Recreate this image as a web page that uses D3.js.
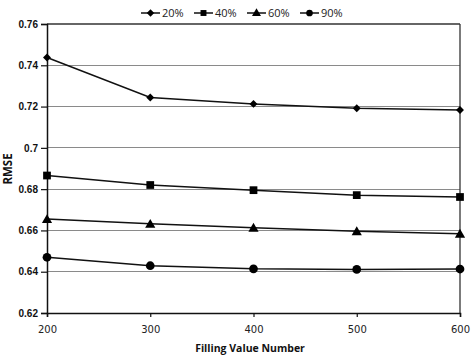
<!DOCTYPE html>
<html><head><meta charset="utf-8">
<script src="https://cdn.jsdelivr.net/npm/d3@7"></script>
<style>body{margin:0;background:#fff}svg{display:block}</style>
</head><body>
<svg id="c" width="474" height="356"></svg>
<script>
const xValues = [200, 300, 400, 500, 600];
const seriesNames = ["20%", "40%", "60%", "90%"];
const s20 = [0.7438, 0.7244, 0.7213, 0.7192, 0.7183];
const s40 = [0.6866, 0.6820, 0.6795, 0.6771, 0.6762];
const s60 = [0.6655, 0.6632, 0.6613, 0.6596, 0.6584];
const s90 = [0.6470, 0.6429, 0.6414, 0.6411, 0.6413];
const yTicks = [0.62, 0.64, 0.66, 0.68, 0.7, 0.72, 0.74, 0.76];
const yTickLabels = ["0.62", "0.64", "0.66", "0.68", "0.7", "0.72", "0.74", "0.76"];
const xTickLabels = ["200", "300", "400", "500", "600"];
const markers = ["diamond", "square", "triangle", "circle"];
const allSeries = [s20, s40, s60, s90];

const svg = d3.select("#c");
const L = 47, R = 460, T = 24, B = 313;
const x = d3.scaleLinear().domain([200, 600]).range([L, R]);
const y = d3.scaleLinear().domain([0.62, 0.76]).range([B, T]);

svg.append("g").selectAll("line").data(yTicks.slice(1, -1)).join("line")
  .attr("x1", L).attr("x2", R).attr("y1", d => y(d)).attr("y2", d => y(d))
  .attr("stroke", "#8a8a8a").attr("stroke-width", 1).attr("shape-rendering", "crispEdges");

svg.append("line").attr("x1", L).attr("x2", R).attr("y1", T).attr("y2", T)
  .attr("stroke", "#333").attr("stroke-width", 1.3);
svg.append("line").attr("x1", R).attr("x2", R).attr("y1", T).attr("y2", B)
  .attr("stroke", "#333").attr("stroke-width", 1.3);

const yAxis = d3.axisLeft(y).tickValues(yTicks).tickFormat((d, i) => yTickLabels[i]).tickSize(6).tickPadding(3);
const gy = svg.append("g").attr("transform", `translate(${L},0)`).call(yAxis);
gy.select(".domain").attr("stroke", "#111").attr("stroke-width", 1.5);
gy.selectAll(".tick line").attr("stroke", "#111").attr("stroke-width", 1.2);
gy.selectAll("text").attr("font-family", "Liberation Sans, Arial, sans-serif")
  .attr("font-weight", "bold").attr("font-size", 10).attr("fill", "#111");

const xAxis = d3.axisBottom(x).tickValues(xValues).tickFormat((d, i) => xTickLabels[i]).tickSize(4).tickPadding(9);
const gx = svg.append("g").attr("transform", `translate(0,${B})`).call(xAxis);
gx.select(".domain").attr("stroke", "#111").attr("stroke-width", 1.5);
gx.selectAll(".tick line").attr("stroke", "#111").attr("stroke-width", 1.2);
gx.selectAll("text").attr("font-family", "DejaVu Sans, Verdana, sans-serif")
  .attr("font-size", 10).attr("fill", "#222");

svg.append("text").attr("x", 250).attr("y", 352).attr("text-anchor", "middle")
  .attr("font-family", "Open Sans, sans-serif").attr("font-weight", "bold").attr("font-size", 10.5)
  .attr("fill", "#111").text("Filling Value Number");
svg.append("text").attr("transform", "translate(12,169) rotate(-90)").attr("text-anchor", "middle")
  .attr("font-family", "Open Sans, sans-serif").attr("font-weight", "bold").attr("font-size", 11.5)
  .attr("fill", "#111").text("RMSE");

function symbolFor(m) {
  if (m === "diamond") return d3.symbol().type(d3.symbolDiamond2).size(40)();
  if (m === "square") return d3.symbol().type(d3.symbolSquare).size(60)();
  if (m === "triangle") return d3.symbol().type(d3.symbolTriangle).size(45)();
  return d3.symbol().type(d3.symbolCircle).size(60)();
}

const line = d3.line().x((d, i) => x(xValues[i])).y(d => y(d));
allSeries.forEach((s, k) => {
  const g = svg.append("g");
  g.append("path").datum(s).attr("d", line).attr("fill", "none")
    .attr("stroke", "#111").attr("stroke-width", 1.5);
  g.selectAll("path.m").data(s).join("path").attr("class", "m")
    .attr("transform", (d, i) => `translate(${x(xValues[i])},${y(d) + (markers[k] === "triangle" ? 1 : 0)})`)
    .attr("d", symbolFor(markers[k])).attr("fill", "#000");
});

const legX = [141, 194, 247, 300];
seriesNames.forEach((n, k) => {
  const g = svg.append("g").attr("transform", `translate(${legX[k]},13)`);
  g.append("line").attr("x1", 0).attr("x2", 19).attr("stroke", "#111").attr("stroke-width", 1.5);
  g.append("path").attr("transform", `translate(9.5,${markers[k] === "triangle" ? 0.5 : 0})`)
    .attr("d", d3.symbol().type([d3.symbolDiamond2, d3.symbolSquare, d3.symbolTriangle, d3.symbolCircle][k]).size(35)())
    .attr("fill", "#000");
  g.append("text").attr("x", 21).attr("y", 4).attr("font-family", "Open Sans, sans-serif")
    .attr("font-size", 11).attr("fill", "#222").text(n);
});
</script>
</body></html>
